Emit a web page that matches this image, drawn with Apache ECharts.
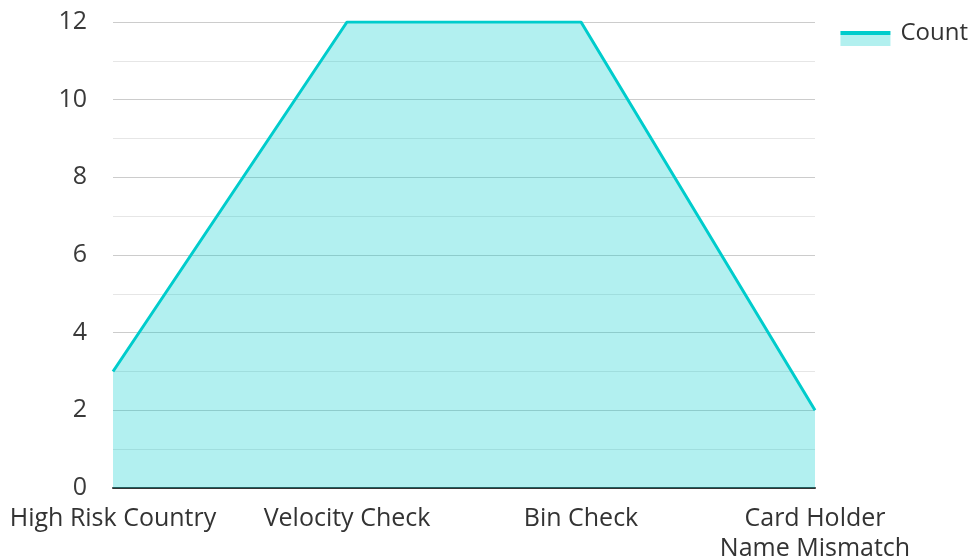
<!DOCTYPE html>
<html>
<head>
<meta charset="utf-8">
<script src="https://cdn.jsdelivr.net/npm/echarts@6/dist/echarts.min.js"></script>
<style>
  html, body { margin: 0; padding: 0; background: #fff; }
  #chart { width: 970px; height: 560px; }
</style>
</head>
<body>
<div id="chart"></div>
<script>
// Rule hits per fraud check
const categories = ['High Risk Country', 'Velocity Check', 'Bin Check', 'Card Holder\nName Mismatch'];
const counts = [3, 12, 12, 2];
const seriesName = 'Count';

const lineColor = '#00cccc';
const fillColor = '#b2f0ef';

const chart = echarts.init(document.getElementById('chart'));
const font = '"Open Sans", "Noto Sans", sans-serif';

chart.setOption({
  animation: false,
  textStyle: { fontFamily: font },
  legend: {
    right: -3,
    top: 16,
    icon: 'rect',
    itemWidth: 50,
    itemHeight: 15,
    itemGap: 10,
    formatter: '{t|{name}}',
    textStyle: {
      fontSize: 24, color: '#333', fontFamily: font,
      rich: { t: { fontSize: 24, color: '#333', fontFamily: font, padding: [0, 0, 11, 5] } }
    },
    itemStyle: {
      // thin line on top, area swatch beneath
      color: new echarts.graphic.LinearGradient(0, 0, 0, 1, [
        { offset: 0, color: lineColor },
        { offset: 0.27, color: lineColor },
        { offset: 0.27, color: fillColor },
        { offset: 1, color: fillColor }
      ])
    },
    data: [seriesName]
  },
  grid: { left: 113, right: 155, top: 22, bottom: 72, outerBoundsMode: 'none', containLabel: false },
  xAxis: {
    type: 'category',
    data: categories,
    boundaryGap: false,
    axisLine: { lineStyle: { color: '#333', width: 2 } },
    axisTick: { show: false },
    axisLabel: { fontSize: 25, color: '#333', margin: 16, lineHeight: 30, fontFamily: font, interval: 0 }
  },
  yAxis: {
    type: 'value',
    min: 0,
    max: 12,
    interval: 2,
    axisLine: { show: false },
    axisTick: { show: false },
    axisLabel: { fontSize: 25, color: '#3a3a3a', margin: 26, fontFamily: font },
    splitLine: { lineStyle: { color: '#ccc', width: 1 } },
    minorTick: { show: false, splitNumber: 2 },
    minorSplitLine: { show: true, lineStyle: { color: '#e6e6e6', width: 1 } }
  },
  series: [{
    name: seriesName,
    type: 'line',
    data: counts,
    symbol: 'none',
    lineStyle: { color: lineColor, width: 3 },
    itemStyle: { color: lineColor },
    areaStyle: { color: lineColor, opacity: 0.3 }
  }]
});
</script>
</body>
</html>
